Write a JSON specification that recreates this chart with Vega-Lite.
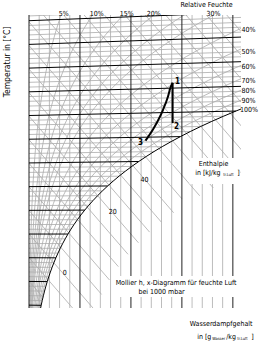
{
"$schema": "https://vega.github.io/schema/vega-lite/v6.json",
"width": 212, "height": 293,
"autosize": "none",
"padding": {"left": 29, "top": 15, "right": 18, "bottom": 33},
"background": "white",
"config": {"view": {"stroke": null}, "font": "DejaVu Sans Condensed, Liberation Sans, sans-serif", "text": {"fill": "black"}},
"datasets": {
"vert": [{"x":0,"m":1},{"x":1,"m":0},{"x":2,"m":0},{"x":3,"m":0},{"x":4,"m":0},{"x":5,"m":1},{"x":6,"m":0},{"x":7,"m":0},{"x":8,"m":0},{"x":9,"m":0},{"x":10,"m":1},{"x":11,"m":0},{"x":12,"m":0},{"x":13,"m":0},{"x":14,"m":0},{"x":15,"m":1},{"x":16,"m":0},{"x":17,"m":0},{"x":18,"m":0},{"x":19,"m":0},{"x":20,"m":1}],
"iso": [{"t":-15,"xs":0,"xe":1.195,"ye":-15.03},{"t":-14,"xs":0,"xe":1.298,"ye":-14.03},{"t":-13,"xs":0,"xe":1.408,"ye":-13.03},{"t":-12,"xs":0,"xe":1.526,"ye":-12.03},{"t":-11,"xs":0,"xe":1.654,"ye":-11.03},{"t":-10,"xs":0,"xe":1.79,"ye":-10.03},{"t":-9,"xs":0,"xe":1.937,"ye":-9.03},{"t":-8,"xs":0,"xe":2.095,"ye":-8.03},{"t":-7,"xs":0,"xe":2.263,"ye":-7.03},{"t":-6,"xs":0,"xe":2.444,"ye":-6.03},{"t":-5,"xs":0,"xe":2.637,"ye":-5.02},{"t":-4,"xs":0,"xe":2.844,"ye":-4.02},{"t":-3,"xs":0,"xe":3.065,"ye":-3.02},{"t":-2,"xs":0,"xe":3.302,"ye":-2.01},{"t":-1,"xs":0,"xe":3.555,"ye":-1.01},{"t":0,"xs":0,"xe":3.825,"ye":0},{"t":1,"xs":0,"xe":4.113,"ye":1.01},{"t":2,"xs":0,"xe":4.421,"ye":2.02},{"t":3,"xs":0,"xe":4.749,"ye":3.03},{"t":4,"xs":0,"xe":5.098,"ye":4.04},{"t":5,"xs":0,"xe":5.47,"ye":5.05},{"t":6,"xs":0,"xe":5.866,"ye":6.07},{"t":7,"xs":0,"xe":6.288,"ye":7.08},{"t":8,"xs":0,"xe":6.737,"ye":8.1},{"t":9,"xs":0,"xe":7.213,"ye":9.12},{"t":10,"xs":0,"xe":7.72,"ye":10.14},{"t":11,"xs":0,"xe":8.259,"ye":11.17},{"t":12,"xs":0,"xe":8.831,"ye":12.2},{"t":13,"xs":0,"xe":9.439,"ye":13.23},{"t":14,"xs":0,"xe":10.084,"ye":14.26},{"t":15,"xs":0,"xe":10.77,"ye":15.3},{"t":16,"xs":0,"xe":11.493,"ye":16.34},{"t":17,"xs":0,"xe":12.26,"ye":17.39},{"t":18,"xs":0,"xe":13.076,"ye":18.44},{"t":19,"xs":0,"xe":13.941,"ye":19.49},{"t":20,"xs":0,"xe":14.858,"ye":20.55},{"t":21,"xs":0,"xe":15.824,"ye":21.62},{"t":22,"xs":0,"xe":16.85,"ye":22.69},{"t":23,"xs":0,"xe":17.933,"ye":23.76},{"t":24,"xs":0,"xe":19.083,"ye":24.85},{"t":25,"xs":0,"xe":20.3,"ye":25.94},{"t":26,"xs":0,"xe":20.8,"ye":27.0},{"t":27,"xs":0,"xe":20.8,"ye":28.04},{"t":28,"xs":0,"xe":20.8,"ye":29.08},{"t":29,"xs":0,"xe":20.8,"ye":30.12},{"t":30,"xs":0,"xe":20.8,"ye":31.15},{"t":31,"xs":0,"xe":20.8,"ye":32.19},{"t":32,"xs":0,"xe":20.8,"ye":33.23},{"t":33,"xs":0,"xe":20.8,"ye":34.27},{"t":34,"xs":0,"xe":20.8,"ye":35.31},{"t":35,"xs":0,"xe":20.8,"ye":36.35},{"t":36,"xs":0,"xe":20.8,"ye":37.39},{"t":37,"xs":0,"xe":20.8,"ye":38.42},{"t":38,"xs":0,"xe":20.8,"ye":39.46},{"t":39,"xs":0,"xe":20.8,"ye":40.5},{"t":40,"xs":0,"xe":20.8,"ye":41.54},{"t":41,"xs":0,"xe":20.8,"ye":42.58},{"t":42,"xs":0,"xe":20.8,"ye":43.62},{"t":43,"xs":0,"xe":20.8,"ye":44.65},{"t":44,"xs":0,"xe":20.8,"ye":45.69},{"t":45,"xs":0,"xe":20.8,"ye":46.73},{"t":46,"xs":0,"xe":20.8,"ye":47.77}],
"sat": [{"x":1.1,"y":-16.03},{"x":1.195,"y":-15.03},{"x":1.298,"y":-14.03},{"x":1.408,"y":-13.03},{"x":1.526,"y":-12.03},{"x":1.654,"y":-11.03},{"x":1.79,"y":-10.03},{"x":1.937,"y":-9.03},{"x":2.095,"y":-8.03},{"x":2.263,"y":-7.03},{"x":2.444,"y":-6.03},{"x":2.637,"y":-5.02},{"x":2.844,"y":-4.02},{"x":3.065,"y":-3.02},{"x":3.302,"y":-2.01},{"x":3.555,"y":-1.01},{"x":3.825,"y":0},{"x":4.113,"y":1.01},{"x":4.421,"y":2.02},{"x":4.749,"y":3.03},{"x":5.098,"y":4.04},{"x":5.47,"y":5.05},{"x":5.866,"y":6.07},{"x":6.288,"y":7.08},{"x":6.737,"y":8.1},{"x":7.213,"y":9.12},{"x":7.72,"y":10.14},{"x":8.259,"y":11.17},{"x":8.831,"y":12.2},{"x":9.439,"y":13.23},{"x":10.084,"y":14.26},{"x":10.77,"y":15.3},{"x":11.493,"y":16.34},{"x":12.26,"y":17.39},{"x":13.076,"y":18.44},{"x":13.941,"y":19.49},{"x":14.858,"y":20.55},{"x":15.824,"y":21.62},{"x":16.85,"y":22.69},{"x":17.933,"y":23.76},{"x":19.083,"y":24.85},{"x":20.3,"y":25.94},{"x":21.58,"y":27.04}],
"enth": [{"h":-15,"xs":0,"y0":-14.91,"xe":0.98,"ye":-17.35},{"h":-10,"xs":0,"y0":-9.94,"xe":1.373,"ye":-13.35},{"h":-5,"xs":0,"y0":-4.97,"xe":1.856,"ye":-9.585},{"h":0,"xs":0,"y0":0,"xe":2.438,"ye":-6.06},{"h":5,"xs":0,"y0":4.97,"xe":3.12,"ye":-2.79},{"h":10,"xs":0,"y0":9.94,"xe":3.897,"ye":0.25},{"h":15,"xs":0,"y0":14.91,"xe":4.764,"ye":3.07},{"h":20,"xs":0,"y0":19.88,"xe":5.714,"ye":5.675},{"h":25,"xs":0,"y0":24.85,"xe":6.737,"ye":8.1},{"h":30,"xs":0,"y0":29.82,"xe":7.831,"ye":10.35},{"h":35,"xs":0,"y0":34.79,"xe":8.984,"ye":12.46},{"h":40,"xs":0,"y0":39.76,"xe":10.191,"ye":14.43},{"h":45,"xs":0,"y0":44.73,"xe":11.447,"ye":16.27},{"h":50,"xs":0,"y0":49.7,"xe":12.747,"ye":18.01},{"h":55,"xs":0,"y0":54.67,"xe":14.086,"ye":19.65},{"h":60,"xs":0,"y0":59.64,"xe":15.459,"ye":21.21},{"h":65,"xs":0,"y0":64.61,"xe":16.861,"ye":22.69},{"h":70,"xs":0,"y0":69.58,"xe":18.293,"ye":24.1},{"h":75,"xs":0,"y0":74.55,"xe":19.753,"ye":25.45},{"h":80,"xs":0,"y0":79.52,"xe":20.8,"ye":27.81},{"h":85,"xs":0,"y0":84.49,"xe":20.8,"ye":32.78},{"h":90,"xs":0,"y0":89.46,"xe":20.8,"ye":37.75},{"h":95,"xs":0,"y0":94.43,"xe":20.8,"ye":42.72}],
"fog": [{"h":-5,"xs":1.856,"ys":-9.585,"xe":5.856,"ye":-19.53},{"h":0,"xs":2.438,"ys":-6.06,"xe":6.438,"ye":-16.0},{"h":5,"xs":3.12,"ys":-2.79,"xe":7.12,"ye":-12.73},{"h":10,"xs":3.897,"ys":0.25,"xe":7.897,"ye":-9.69},{"h":15,"xs":4.764,"ys":3.07,"xe":8.764,"ye":-6.87},{"h":20,"xs":5.714,"ys":5.675,"xe":9.714,"ye":-4.27},{"h":25,"xs":6.737,"ys":8.1,"xe":10.737,"ye":-1.84},{"h":30,"xs":7.831,"ys":10.35,"xe":11.831,"ye":0.41},{"h":35,"xs":8.984,"ys":12.46,"xe":12.984,"ye":2.52},{"h":40,"xs":10.191,"ys":14.43,"xe":14.191,"ye":4.49},{"h":45,"xs":11.447,"ys":16.27,"xe":15.0,"ye":7.44},{"h":50,"xs":12.747,"ys":18.01,"xe":16.747,"ye":8.07},{"h":55,"xs":14.086,"ys":19.65,"xe":18.086,"ye":9.71},{"h":60,"xs":15.459,"ys":21.21,"xe":19.459,"ye":11.27},{"h":65,"xs":16.861,"ys":22.69,"xe":20.861,"ye":12.75},{"h":70,"xs":18.293,"ys":24.1,"xe":22.293,"ye":14.16},{"h":75,"xs":19.753,"ys":25.45,"xe":23.753,"ye":15.51}],
"rh": [
{"p":5,"x":0.0549,"y":-16.0},{"p":5,"x":0.0893,"y":-10.0},{"p":5,"x":0.1313,"y":-5.0},{"p":5,"x":0.1902,"y":0},{"p":5,"x":0.2713,"y":5.0},{"p":5,"x":0.3815,"y":10.01},{"p":5,"x":0.5298,"y":15.01},{"p":5,"x":0.7263,"y":20.03},{"p":5,"x":0.9842,"y":25.05},{"p":5,"x":1.3196,"y":30.07},{"p":5,"x":1.7506,"y":35.11},{"p":5,"x":2.3001,"y":40.17},{"p":5,"x":2.9944,"y":45.25},{"p":5,"x":3.3193,"y":47.29},
{"p":10,"x":0.1099,"y":-16.0},{"p":10,"x":0.1786,"y":-10.0},{"p":10,"x":0.2627,"y":-5.0},{"p":10,"x":0.3804,"y":0},{"p":10,"x":0.5427,"y":5.01},{"p":10,"x":0.7635,"y":10.01},{"p":10,"x":1.0605,"y":15.03},{"p":10,"x":1.4545,"y":20.05},{"p":10,"x":1.9717,"y":25.09},{"p":10,"x":2.6444,"y":30.15},{"p":10,"x":3.5109,"y":35.23},{"p":10,"x":4.6173,"y":40.34},{"p":10,"x":6.0181,"y":45.5},{"p":10,"x":6.671,"y":47.58},
{"p":15,"x":0.1649,"y":-16.0},{"p":15,"x":0.2679,"y":-10.0},{"p":15,"x":0.3941,"y":-5.0},{"p":15,"x":0.5708,"y":0},{"p":15,"x":0.8144,"y":5.01},{"p":15,"x":1.146,"y":10.02},{"p":15,"x":1.592,"y":15.04},{"p":15,"x":2.1844,"y":20.08},{"p":15,"x":2.963,"y":25.14},{"p":15,"x":3.9757,"y":30.22},{"p":15,"x":5.2815,"y":35.34},{"p":15,"x":6.9521,"y":40.51},{"p":15,"x":9.0682,"y":45.76},{"p":15,"x":10.064,"y":47.88},
{"p":20,"x":0.2199,"y":-16.01},{"p":20,"x":0.3573,"y":-10.01},{"p":20,"x":0.5256,"y":-5.0},{"p":20,"x":0.7613,"y":0},{"p":20,"x":1.0863,"y":5.01},{"p":20,"x":1.5289,"y":10.03},{"p":20,"x":2.1241,"y":15.06},{"p":20,"x":2.9162,"y":20.11},{"p":20,"x":3.9573,"y":25.18},{"p":20,"x":5.3125,"y":30.29},{"p":20,"x":7.062,"y":35.46},{"p":20,"x":9.3021,"y":40.69},{"p":20,"x":12.152,"y":46.01},{"p":20,"x":13.491,"y":48.17},
{"p":25,"x":0.2749,"y":-16.01},{"p":25,"x":0.4466,"y":-10.01},{"p":25,"x":0.6571,"y":-5.01},{"p":25,"x":0.9518,"y":0},{"p":25,"x":1.3584,"y":5.01},{"p":25,"x":1.9123,"y":10.04},{"p":25,"x":2.6577,"y":15.07},{"p":25,"x":3.6494,"y":20.14},{"p":25,"x":4.9546,"y":25.23},{"p":25,"x":6.6543,"y":30.37},{"p":25,"x":8.8521,"y":35.57},{"p":25,"x":11.673,"y":40.86},{"p":25,"x":15.265,"y":46.27},{"p":25,"x":16.96,"y":48.47},
{"p":30,"x":0.3298,"y":-16.01},{"p":30,"x":0.536,"y":-10.01},{"p":30,"x":0.7886,"y":-5.01},{"p":30,"x":1.1426,"y":0},{"p":30,"x":1.6309,"y":5.02},{"p":30,"x":2.2961,"y":10.04},{"p":30,"x":3.1921,"y":15.09},{"p":30,"x":4.3837,"y":20.16},{"p":30,"x":5.955,"y":25.28},{"p":30,"x":8.0023,"y":30.44},{"p":30,"x":10.653,"y":35.69},{"p":30,"x":14.062,"y":41.04},{"p":30,"x":18.405,"y":46.53},{"p":30,"x":20.467,"y":48.78},
{"p":40,"x":0.4398,"y":-16.01},{"p":40,"x":0.715,"y":-10.01},{"p":40,"x":1.052,"y":-5.01},{"p":40,"x":1.5244,"y":0},{"p":40,"x":2.1763,"y":5.02},{"p":40,"x":3.0663,"y":10.06},{"p":40,"x":4.2627,"y":15.12},{"p":40,"x":5.8576,"y":20.22},{"p":40,"x":7.9622,"y":25.37},{"p":40,"x":10.713,"y":30.59},{"p":40,"x":14.285,"y":35.93},{"p":40,"x":18.888,"y":41.4},{"p":40,"x":24.785,"y":47.06},
{"p":50,"x":0.5502,"y":-16.02},{"p":50,"x":0.894,"y":-10.02},{"p":50,"x":1.3156,"y":-5.01},{"p":50,"x":1.9067,"y":0},{"p":50,"x":2.723,"y":5.03},{"p":50,"x":3.8371,"y":10.07},{"p":50,"x":5.3391,"y":15.15},{"p":50,"x":7.3417,"y":20.27},{"p":50,"x":9.9822,"y":25.46},{"p":50,"x":13.45,"y":30.75},{"p":50,"x":17.962,"y":36.16},{"p":50,"x":23.79,"y":41.76},
{"p":60,"x":0.661,"y":-16.02},{"p":60,"x":1.073,"y":-10.02},{"p":60,"x":1.5793,"y":-5.01},{"p":60,"x":2.2896,"y":0},{"p":60,"x":3.2708,"y":5.03},{"p":60,"x":4.6116,"y":10.09},{"p":60,"x":6.42,"y":15.18},{"p":60,"x":8.8302,"y":20.33},{"p":60,"x":12.023,"y":25.56},{"p":60,"x":16.235,"y":30.9},{"p":60,"x":21.678,"y":36.4},
{"p":70,"x":0.7713,"y":-16.02},{"p":70,"x":1.2522,"y":-10.02},{"p":70,"x":1.8434,"y":-5.02},{"p":70,"x":2.6724,"y":0},{"p":70,"x":3.8198,"y":5.04},{"p":70,"x":5.3825,"y":10.1},{"p":70,"x":7.4983,"y":15.21},{"p":70,"x":10.327,"y":20.38},{"p":70,"x":14.071,"y":25.65},{"p":70,"x":19.003,"y":31.05},{"p":70,"x":25.44,"y":36.65},
{"p":80,"x":0.8816,"y":-16.03},{"p":80,"x":1.4314,"y":-10.03},{"p":80,"x":2.1075,"y":-5.02},{"p":80,"x":3.0565,"y":0},{"p":80,"x":4.368,"y":5.04},{"p":80,"x":6.1613,"y":10.11},{"p":80,"x":8.5862,"y":15.24},{"p":80,"x":11.83,"y":20.44},{"p":80,"x":16.127,"y":25.75},{"p":80,"x":21.807,"y":31.21},
{"p":90,"x":0.9919,"y":-16.03},{"p":90,"x":1.6113,"y":-10.03},{"p":90,"x":2.3717,"y":-5.02},{"p":90,"x":3.4396,"y":0},{"p":90,"x":4.9183,"y":5.05},{"p":90,"x":6.9405,"y":10.13},{"p":90,"x":9.6799,"y":15.27},{"p":90,"x":13.338,"y":20.49},{"p":90,"x":18.205,"y":25.84},{"p":90,"x":24.64,"y":31.37}],
"proc": [{"s":"a","x":11.43,"y":19.7},{"s":"a","x":12.32,"y":22.64},{"s":"a","x":13.14,"y":26.16},{"s":"a","x":13.63,"y":28.97},{"s":"a","x":13.86,"y":30.74},{"s":"a","x":14.09,"y":31.9},{"s":"b","x":14.09,"y":31.9},{"s":"b","x":14.09,"y":23.42}],
"boxes": [{"x":15.75,"x2":20.75,"y":16.03,"y2":10.55},{"x":8.5,"x2":20.46,"y":-8.86,"y2":-13.3}],
"labc": [{"x":3.5,"y":-8.23,"s":"0"},{"x":8.21,"y":4.64,"s":"20"},{"x":11.34,"y":11.39,"s":"40"},{"x":3.4,"y":46.41,"s":"5%"},{"x":6.64,"y":46.41,"s":"10%"},{"x":9.58,"y":46.41,"s":"15%"},{"x":12.23,"y":46.41,"s":"20%"},{"x":18.11,"y":46.41,"s":"30%"},{"x":17.42,"y":48.35,"s":"Relative Feuchte"},{"x":18.1,"y":14.77,"s":"Enthalpie"},{"x":14.43,"y":-10.34,"s":"Mollier h, x-Diagramm für feuchte Luft"},{"x":13.0,"y":-12.24,"s":"bei  1000 mbar"}],
"labp": [{"x":14.58,"y":32.07,"s":"1"},{"x":14.48,"y":22.57,"s":"2"},{"x":10.95,"y":19.2,"s":"3"}],
"labl": [{"x":20.85,"y":43.04,"s":"40%"},{"x":20.85,"y":38.4,"s":"50%"},{"x":20.85,"y":35.23,"s":"60%"},{"x":20.85,"y":32.28,"s":"70%"},{"x":20.85,"y":30.17,"s":"80%"},{"x":20.85,"y":28.06,"s":"90%"},{"x":20.7,"y":26.16,"s":"100%"}],
"enlab": [{"x":16.3,"y":12.87}],
"xlab": [{"x":16.5,"y":-21.73}],
"labr": [{"x":21.93,"y":-18.99,"s":"Wasserdampfgehalt"}],
"laby": [{"x":-2.19,"y":36.3,"s":"Temperatur in [°C]"}]
},
"layer": [
{"data":{"name":"vert"},"transform":[{"filter":"datum.m==0"}],"mark":{"type":"rule","color":"#ababab","strokeWidth":0.8},
 "encoding":{"x":{"field":"x","type":"quantitative","scale":{"domain":[0,20.8],"nice":false,"zero":false},
  "axis":{"values":[0,5,10,15,20],"ticks":false,"domain":false,"grid":false,"labelPadding":4,"labelFontSize":7.5,"labelColor":"black","title":null}}}},
{"data":{"name":"iso"},"transform":[{"filter":"datum.t % 5 != 0"}],"mark":{"type":"rule","color":"#ababab","strokeWidth":0.8,"clip":true},
 "encoding":{"x":{"field":"xs","type":"quantitative","scale":{"domain":[0,20.8],"nice":false,"zero":false},"axis":null},
  "y":{"field":"t","type":"quantitative","scale":{"domain":[-15.6,46.2],"nice":false,"zero":false},
   "axis":{"values":[-10,-5,0,5,10,15,20,25,30,35,40,45],"ticks":true,"tickSize":4,"tickColor":"black","tickWidth":1,"domain":false,"grid":false,"labelPadding":2,"labelFontSize":7.5,"labelColor":"black","title":null}},
  "x2":{"field":"xe"},"y2":{"field":"ye"}}},
{"data":{"name":"enth"},"mark":{"type":"rule","color":"#ababab","strokeWidth":0.8,"clip":true},
 "encoding":{"x":{"field":"xs","type":"quantitative","scale":{"domain":[0,20.8],"nice":false,"zero":false},"axis":null},
  "y":{"field":"y0","type":"quantitative","scale":{"domain":[-15.6,46.2],"nice":false,"zero":false},"axis":null},
  "x2":{"field":"xe"},"y2":{"field":"ye"}}},
{"data":{"name":"fog"},"mark":{"type":"rule","color":"#ababab","strokeWidth":0.8,"clip":true},
 "encoding":{"x":{"field":"xs","type":"quantitative","scale":{"domain":[0,20.8],"nice":false,"zero":false},"axis":null},
  "y":{"field":"ys","type":"quantitative","scale":{"domain":[-15.6,46.2],"nice":false,"zero":false},"axis":null},
  "x2":{"field":"xe"},"y2":{"field":"ye"}}},
{"data":{"name":"rh"},"mark":{"type":"line","color":"#ababab","strokeWidth":0.8,"clip":true,"interpolate":"monotone"},
 "encoding":{"x":{"field":"x","type":"quantitative","scale":{"domain":[0,20.8],"nice":false,"zero":false},"axis":null},
  "y":{"field":"y","type":"quantitative","scale":{"domain":[-15.6,46.2],"nice":false,"zero":false},"axis":null},
  "detail":{"field":"p","type":"nominal"}}},
{"data":{"name":"vert"},"transform":[{"filter":"datum.m==1"}],"mark":{"type":"rule","color":"#222222","strokeWidth":1},
 "encoding":{"x":{"field":"x","type":"quantitative","scale":{"domain":[0,20.8],"nice":false,"zero":false},"axis":null}}},
{"data":{"name":"iso"},"transform":[{"filter":"datum.t % 5 == 0"}],"mark":{"type":"rule","color":"black","strokeWidth":1,"clip":true},
 "encoding":{"x":{"field":"xs","type":"quantitative","scale":{"domain":[0,20.8],"nice":false,"zero":false},"axis":null},
  "y":{"field":"t","type":"quantitative","scale":{"domain":[-15.6,46.2],"nice":false,"zero":false},"axis":null},
  "x2":{"field":"xe"},"y2":{"field":"ye"}}},
{"data":{"name":"sat"},"mark":{"type":"line","color":"black","strokeWidth":1,"clip":true,"interpolate":"monotone"},
 "encoding":{"x":{"field":"x","type":"quantitative","scale":{"domain":[0,20.8],"nice":false,"zero":false},"axis":null},
  "y":{"field":"y","type":"quantitative","scale":{"domain":[-15.6,46.2],"nice":false,"zero":false},"axis":null}}},
{"data":{"name":"proc"},"mark":{"type":"line","color":"black","strokeWidth":2,"interpolate":"monotone"},
 "encoding":{"x":{"field":"x","type":"quantitative","scale":{"domain":[0,20.8],"nice":false,"zero":false},"axis":null},
  "y":{"field":"y","type":"quantitative","scale":{"domain":[-15.6,46.2],"nice":false,"zero":false},"axis":null},
  "detail":{"field":"s","type":"nominal"}}},
{"data":{"name":"boxes"},"mark":{"type":"rect","color":"white"},
 "encoding":{"x":{"field":"x","type":"quantitative","scale":{"domain":[0,20.8],"nice":false,"zero":false},"axis":null},
  "y":{"field":"y","type":"quantitative","scale":{"domain":[-15.6,46.2],"nice":false,"zero":false},"axis":null},
  "x2":{"field":"x2"},"y2":{"field":"y2"}}},
{"data":{"name":"labc"},"mark":{"type":"text","fontSize":7,"align":"center","baseline":"middle","fill":"black"},
 "encoding":{"x":{"field":"x","type":"quantitative","scale":{"domain":[0,20.8],"nice":false,"zero":false},"axis":null},
  "y":{"field":"y","type":"quantitative","scale":{"domain":[-15.6,46.2],"nice":false,"zero":false},"axis":null},
  "text":{"field":"s","type":"nominal"}}},
{"data":{"name":"labp"},"mark":{"type":"text","fontSize":8,"fontWeight":"bold","align":"center","baseline":"middle","fill":"black"},
 "encoding":{"x":{"field":"x","type":"quantitative","scale":{"domain":[0,20.8],"nice":false,"zero":false},"axis":null},
  "y":{"field":"y","type":"quantitative","scale":{"domain":[-15.6,46.2],"nice":false,"zero":false},"axis":null},
  "text":{"field":"s","type":"nominal"}}},
{"data":{"name":"labl"},"mark":{"type":"text","fontSize":7,"align":"left","baseline":"middle","fill":"black"},
 "encoding":{"x":{"field":"x","type":"quantitative","scale":{"domain":[0,20.8],"nice":false,"zero":false},"axis":null},
  "y":{"field":"y","type":"quantitative","scale":{"domain":[-15.6,46.2],"nice":false,"zero":false},"axis":null},
  "text":{"field":"s","type":"nominal"}}},
{"data":{"name":"enlab"},"layer":[
  {"mark":{"type":"text","fontSize":7,"align":"left","baseline":"middle","fill":"black","text":"in [kJ/kg"}},
  {"mark":{"type":"text","fontSize":4,"align":"left","baseline":"middle","fill":"black","text":"tr.Luft","dx":28,"dy":2}},
  {"mark":{"type":"text","fontSize":7,"align":"left","baseline":"middle","fill":"black","text":"]","dx":42}}],
 "encoding":{"x":{"field":"x","type":"quantitative","scale":{"domain":[0,20.8],"nice":false,"zero":false},"axis":null},
  "y":{"field":"y","type":"quantitative","scale":{"domain":[-15.6,46.2],"nice":false,"zero":false},"axis":null}}},
{"data":{"name":"xlab"},"layer":[
  {"mark":{"type":"text","fontSize":7,"align":"left","baseline":"middle","fill":"black","text":"in [g"}},
  {"mark":{"type":"text","fontSize":4,"align":"left","baseline":"middle","fill":"black","text":"Wasser","dx":15,"dy":2}},
  {"mark":{"type":"text","fontSize":7,"align":"left","baseline":"middle","fill":"black","text":"/kg","dx":29}},
  {"mark":{"type":"text","fontSize":4,"align":"left","baseline":"middle","fill":"black","text":"tr.Luft","dx":40,"dy":2}},
  {"mark":{"type":"text","fontSize":7,"align":"left","baseline":"middle","fill":"black","text":"]","dx":54}}],
 "encoding":{"x":{"field":"x","type":"quantitative","scale":{"domain":[0,20.8],"nice":false,"zero":false},"axis":null},
  "y":{"field":"y","type":"quantitative","scale":{"domain":[-15.6,46.2],"nice":false,"zero":false},"axis":null}}},
{"data":{"name":"labr"},"mark":{"type":"text","fontSize":7,"align":"right","baseline":"middle","fill":"black"},
 "encoding":{"x":{"field":"x","type":"quantitative","scale":{"domain":[0,20.8],"nice":false,"zero":false},"axis":null},
  "y":{"field":"y","type":"quantitative","scale":{"domain":[-15.6,46.2],"nice":false,"zero":false},"axis":null},
  "text":{"field":"s","type":"nominal"}}},
{"data":{"name":"laby"},"mark":{"type":"text","fontSize":8.5,"align":"center","baseline":"middle","angle":270,"fill":"black"},
 "encoding":{"x":{"field":"x","type":"quantitative","scale":{"domain":[0,20.8],"nice":false,"zero":false},"axis":null},
  "y":{"field":"y","type":"quantitative","scale":{"domain":[-15.6,46.2],"nice":false,"zero":false},"axis":null},
  "text":{"field":"s","type":"nominal"}}}
]
}
